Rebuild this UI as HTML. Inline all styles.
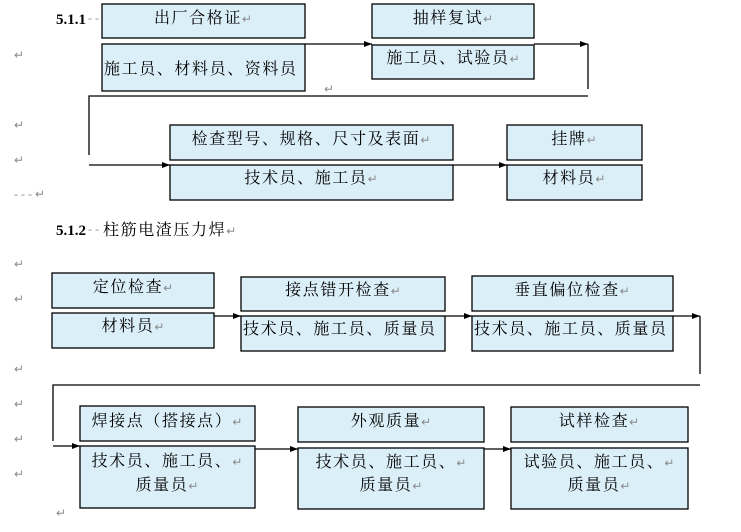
<!DOCTYPE html>
<html><head><meta charset="utf-8"><style>
body{margin:0;background:#fff;width:741px;height:527px;overflow:hidden}
svg text{font-family:"Liberation Serif","Noto Serif CJK SC",serif;font-size:16px;fill:#000;letter-spacing:1.6px}
.r{fill:#8a8a8a;font-size:12px;letter-spacing:0}
.b{fill:#dbeff9;stroke:#000;stroke-width:1.3}
.l{stroke:#000;stroke-width:1.3;fill:none}
</style></head><body>
<svg width="741" height="527" viewBox="0 0 741 527" xmlns="http://www.w3.org/2000/svg">
<defs><marker id="a" markerWidth="8" markerHeight="6" refX="8" refY="3" orient="auto" markerUnits="userSpaceOnUse"><path d="M0,0 L8,3 L0,6z" fill="#000"/></marker></defs>
<text x="56" y="24" style="font-weight:bold;font-size:15px;letter-spacing:0">5.1.1</text><text x="88" y="22" class="r">- -</text>
<text x="14" y="59" class="r">↵</text><text x="14" y="129" class="r">↵</text><text x="14" y="164" class="r">↵</text>
<text x="14" y="198" class="r">- - - ↵</text><text x="324" y="93" class="r">↵</text>
<rect class="b" x="102" y="4" width="203" height="34"/><text x="203" y="23" text-anchor="middle">出厂合格证<tspan class="r">↵</tspan></text>
<rect class="b" x="102" y="44" width="203" height="47"/><text x="104" y="74">施工员、材料员、资料员</text>
<rect class="b" x="372" y="4" width="162" height="34"/><text x="453" y="23" text-anchor="middle">抽样复试<tspan class="r">↵</tspan></text>
<rect class="b" x="372" y="45" width="162" height="34"/><text x="453" y="63" text-anchor="middle">施工员、试验员<tspan class="r">↵</tspan></text>
<line class="l" x1="305" y1="44" x2="372" y2="44" marker-end="url(#a)"/>
<line class="l" x1="534" y1="44" x2="588" y2="44" marker-end="url(#a)"/>
<polyline class="l" points="588,44 588,89"/>
<polyline class="l" points="588,96 89,96 89,155"/>
<line class="l" x1="89" y1="165" x2="170" y2="165" marker-end="url(#a)"/>
<rect class="b" x="170" y="125" width="283" height="35"/><text x="311" y="144" text-anchor="middle">检查型号、规格、尺寸及表面<tspan class="r">↵</tspan></text>
<rect class="b" x="170" y="165" width="283" height="35"/><text x="311" y="183" text-anchor="middle">技术员、施工员<tspan class="r">↵</tspan></text>
<line class="l" x1="453" y1="165" x2="507" y2="165" marker-end="url(#a)"/>
<rect class="b" x="507" y="125" width="135" height="35"/><text x="574" y="144" text-anchor="middle">挂牌<tspan class="r">↵</tspan></text>
<rect class="b" x="507" y="165" width="135" height="35"/><text x="574" y="183" text-anchor="middle">材料员<tspan class="r">↵</tspan></text>
<text x="56" y="235" style="font-weight:bold;font-size:15px;letter-spacing:0">5.1.2</text><text x="88" y="233" class="r">- -</text><text x="103" y="235">柱筋电渣压力焊<tspan class="r">↵</tspan></text>
<text x="14" y="268" class="r">↵</text><text x="14" y="303" class="r">↵</text><text x="14" y="373" class="r">↵</text><text x="14" y="408" class="r">↵</text><text x="14" y="443" class="r">↵</text><text x="14" y="478" class="r">↵</text><text x="56" y="517" class="r">↵</text>
<rect class="b" x="52" y="273" width="162" height="35"/><text x="133" y="292" text-anchor="middle">定位检查<tspan class="r">↵</tspan></text>
<rect class="b" x="52" y="313" width="162" height="35"/><text x="133" y="331" text-anchor="middle">材料员<tspan class="r">↵</tspan></text>
<line class="l" x1="214" y1="316" x2="241" y2="316" marker-end="url(#a)"/>
<rect class="b" x="241" y="277" width="204" height="34"/><text x="343" y="295" text-anchor="middle">接点错开检查<tspan class="r">↵</tspan></text>
<rect class="b" x="241" y="316" width="204" height="35"/><text x="243" y="334">技术员、施工员、质量员</text>
<line class="l" x1="445" y1="316" x2="472" y2="316" marker-end="url(#a)"/>
<rect class="b" x="472" y="276" width="201" height="35"/><text x="572" y="295" text-anchor="middle">垂直偏位检查<tspan class="r">↵</tspan></text>
<rect class="b" x="472" y="316" width="201" height="35"/><text x="474" y="334">技术员、施工员、质量员</text>
<line class="l" x1="673" y1="316" x2="700" y2="316" marker-end="url(#a)"/>
<polyline class="l" points="700,316 700,374"/>
<polyline class="l" points="700,385 53,385 53,441"/>
<line class="l" x1="53" y1="446" x2="80" y2="446" marker-end="url(#a)"/>
<rect class="b" x="80" y="406" width="175" height="35"/><text x="167" y="426" text-anchor="middle">焊接点（搭接点）<tspan class="r">↵</tspan></text>
<rect class="b" x="80" y="446" width="175" height="62"/><text x="167" y="466" text-anchor="middle">技术员、施工员、<tspan class="r">↵</tspan></text><text x="167" y="490" text-anchor="middle">质量员<tspan class="r">↵</tspan></text>
<line class="l" x1="255" y1="449" x2="298" y2="449" marker-end="url(#a)"/>
<rect class="b" x="298" y="407" width="186" height="35"/><text x="391" y="426" text-anchor="middle">外观质量<tspan class="r">↵</tspan></text>
<rect class="b" x="298" y="448" width="186" height="61"/><text x="391" y="467" text-anchor="middle">技术员、施工员、<tspan class="r">↵</tspan></text><text x="391" y="490" text-anchor="middle">质量员<tspan class="r">↵</tspan></text>
<line class="l" x1="484" y1="449" x2="511" y2="449" marker-end="url(#a)"/>
<rect class="b" x="511" y="407" width="177" height="35"/><text x="599" y="426" text-anchor="middle">试样检查<tspan class="r">↵</tspan></text>
<rect class="b" x="511" y="448" width="177" height="61"/><text x="599" y="467" text-anchor="middle">试验员、施工员、<tspan class="r">↵</tspan></text><text x="599" y="490" text-anchor="middle">质量员<tspan class="r">↵</tspan></text>
</svg>
</body></html>
